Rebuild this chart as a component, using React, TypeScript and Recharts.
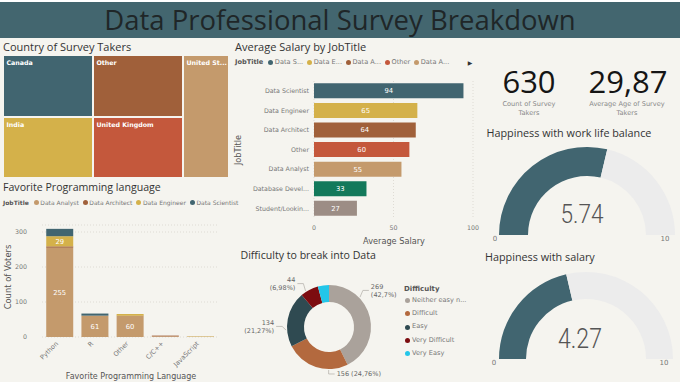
import React from 'react';
import { Treemap, BarChart, Bar, XAxis, YAxis, CartesianGrid, Cell, LabelList, PieChart, Pie } from 'recharts';

// Country of survey takers (tile sizes)
const countries = ['Canada', 'Other', 'India', 'United Kingdom', 'United States'];
const countryTiles = [113, 113, 111, 111, 115];

// Average salary by job title (k$)
const jobTitles = ['Data Scientist', 'Data Engineer', 'Data Architect', 'Other', 'Data Analyst', 'Database Developer', 'Student/Looking/None'];
const avgSalary = [94, 65, 64, 60, 55, 33, 27];

// Favorite programming language, votes per job title
const languages = ['Python', 'R', 'Other', 'C/C++', 'JavaScript'];
const analystVotes = [255, 61, 60, 2, 1];
const architectVotes = [4, 0, 1, 2, 0];
const engineerVotes = [29, 0, 5, 0, 1];
const scientistVotes = [21, 6, 0, 0, 0];

// Difficulty to break into data
const difficulty = ['Neither easy nor difficult', 'Difficult', 'Easy', 'Very Difficult', 'Very Easy'];
const difficultyCount = [269, 156, 134, 44, 27];

// KPIs
const surveyCount = '630';
const averageAge = '29,87';
const workLifeHappiness = 5.74;
const salaryHappiness = 4.27;
const gaugeMax = 10;

const BG = '#f5f4ef';
const TEAL = '#416570';
const TITLE = '"Open Sans", "Noto Sans", sans-serif';
const SMALL = '"DejaVu Sans", Verdana, sans-serif';

const countryColors = [TEAL, '#a0603a', '#d4b14a', '#c4583c', '#c49a6c'];
const jobColors = [TEAL, '#d4b14a', '#a0603a', '#c4583c', '#c49a6c', '#13795b', '#9c8d85'];
const diffColors = ['#aaa29b', '#b3693e', '#2f4a51', '#7c0c10', '#23c6e9'];

const tile = (i: number) => ({ name: countries[i], size: countryTiles[i], tileColor: countryColors[i] });
const countryTree = [
  { name: 'top', children: [tile(0), tile(1)] },
  { name: 'bottom', children: [tile(2), tile(3)] },
  tile(4),
];

const salaryData = jobTitles.map((t, i) => ({ title: t, salary: avgSalary[i] }));
const langData = languages.map((l, i) => ({
  lang: l,
  analyst: analystVotes[i],
  architect: architectVotes[i],
  engineer: engineerVotes[i],
  scientist: scientistVotes[i],
}));
const diffTotal = difficultyCount.reduce((a, b) => a + b, 0);
const diffData = difficulty.map((d, i) => ({ name: d, value: difficultyCount[i] }));

const truncate = (s: string, n = 14) => (s.length > n ? s.slice(0, n) + '...' : s);
const fmtPct = (v: number) => (Math.round((v / diffTotal) * 10000) / 100).toString().replace('.', ',') + '%';
const RAD = Math.PI / 180;

const axisTick = { fontSize: 6.3, fill: '#777', fontFamily: SMALL };

const TreeTile = (props: any) => {
  const { x, y, width, height, name, tileColor } = props;
  if (!tileColor) return null;
  const label = name.length * 4.4 > width - 6 ? name.slice(0, Math.floor((width - 6) / 4.4)) + '...' : name;
  return (
    <g>
      <rect x={x} y={y} width={width} height={height} fill={tileColor} stroke={BG} strokeWidth={2} />
      <text x={x + 3.5} y={y + 9.5} fill="#fff" fontSize={6.3} fontWeight="bold" fontFamily={SMALL}>
        {label}
      </text>
    </g>
  );
};

const JobTick = (props: any) => {
  const { x, y, payload } = props;
  return (
    <text x={x} y={y} dy={2.3} textAnchor="end" {...axisTick}>
      {truncate(payload.value)}
    </text>
  );
};

const LangTick = (props: any) => {
  const { x, y, payload } = props;
  const tx = x - 1;
  const ty = y - 1;
  return (
    <text x={tx} y={ty} transform={`rotate(-45 ${tx} ${ty})`} textAnchor="end" fontSize={6.5} fill="#777" fontFamily={SMALL}>
      {payload.value}
    </text>
  );
};

// leader line attached a third of the way into each slice, like the original report
const DiffLabel = (p: any) => {
  const { cx, cy, startAngle, endAngle, outerRadius, value, percent } = p;
  if (percent < 0.05) return null;
  const a = startAngle + (endAngle - startAngle) * 0.3;
  const cos = Math.cos(-a * RAD);
  const sin = Math.sin(-a * RAD);
  const bottom = sin > 0.8;
  const sx = cx + (outerRadius + 1) * cos;
  const sy = cy + (outerRadius + 1) * sin;
  const mx = cx + (outerRadius + 5) * cos;
  const my = cy + (outerRadius + 5) * sin - (bottom ? 0 : 4);
  const right = bottom || cos >= 0;
  const ex = mx + (right ? 6 : -6);
  const tx = ex + (right ? 2 : -2);
  const style = { fontSize: 6.5, fill: '#666', fontFamily: SMALL };
  return (
    <g>
      <polyline points={`${sx},${sy} ${mx},${my} ${ex},${my}`} fill="none" stroke="#b0aca6" strokeWidth={0.7} />
      {bottom ? (
        <text x={tx} y={my + 2.3} {...style}>{`${value} (${fmtPct(value)})`}</text>
      ) : (
        <text x={tx} y={my - 1.5} textAnchor={right ? 'start' : 'end'} {...style}>
          <tspan x={tx}>{value}</tspan>
          <tspan x={tx} dy={7.6}>({fmtPct(value)})</tspan>
        </text>
      )}
    </g>
  );
};

const Gauge = ({ value, top, cx, inner, outer }: any) => (
  <div style={{ position: 'absolute', left: 480, top }}>
    <PieChart width={200} height={110}>
      <Pie
        data={[{ v: value }, { v: gaugeMax - value }]}
        dataKey="v"
        cx={cx}
        cy={100}
        startAngle={180}
        endAngle={0}
        innerRadius={inner}
        outerRadius={outer}
        stroke="none"
        isAnimationActive={false}
      >
        <Cell fill={TEAL} />
        <Cell fill="#ececec" />
      </Pie>
    </PieChart>
  </div>
);

const LegendRow = ({ items, colors, style, gap }: any) => (
  <div style={{ position: 'absolute', display: 'flex', alignItems: 'center', fontFamily: SMALL, color: '#777', whiteSpace: 'nowrap', ...style }}>
    <span style={{ fontWeight: 'bold', color: '#555', marginRight: gap + 1 }}>JobTitle</span>
    {items.map((t: string, i: number) => (
      <span key={t + i} style={{ display: 'flex', alignItems: 'center', marginRight: gap }}>
        <span style={{ width: 5, height: 5, borderRadius: 3, background: colors[i], marginRight: 1.5, display: 'inline-block' }} />
        {t}
      </span>
    ))}
  </div>
);

export default function App() {
  return (
    <div style={{ position: 'absolute', left: 0, top: 0, width: 680, height: 382, background: BG, overflow: 'hidden' }}>
      <div style={{ position: 'absolute', left: 0, top: 0, width: 680, height: 2, background: '#fff' }} />
      <div style={{ position: 'absolute', left: 0, top: 2, width: 680, height: 36, background: '#43666f' }} />

      {/* Country treemap */}
      <div style={{ position: 'absolute', left: 3, top: 55 }}>
        <Treemap width={226} height={123} data={countryTree} dataKey="size" isAnimationActive={false} content={<TreeTile />} />
      </div>

      {/* Average salary by job title */}
      <LegendRow
        items={jobTitles.slice(0, 5).map((t) => truncate(t, 6))}
        colors={jobColors}
        gap={4}
        style={{ left: 235, top: 58, fontSize: 6.6 }}
      />
      <div style={{ position: 'absolute', left: 230, top: 70 }}>
        <BarChart width={250} height={180} data={salaryData} layout="vertical" margin={{ top: 11, right: 7, bottom: 0, left: 0 }} barCategoryGap="12%">
          <CartesianGrid horizontal={false} stroke="#dedbd4" strokeDasharray="1 2" />
          <XAxis type="number" domain={[0, 100]} ticks={[0, 50, 100]} axisLine={false} tickLine={false} tick={axisTick} height={32} />
          <YAxis type="category" dataKey="title" width={84} axisLine={false} tickLine={false} tickSize={3} tick={<JobTick />} interval={0} />
          <Bar dataKey="salary" isAnimationActive={false}>
            {salaryData.map((d, i) => (
              <Cell key={d.title} fill={jobColors[i]} />
            ))}
            <LabelList dataKey="salary" position="center" fill="#fff" fontSize={6.8} fontFamily={SMALL} />
          </Bar>
        </BarChart>
      </div>

      {/* Favorite programming language */}
      <LegendRow
        items={['Data Analyst', 'Data Architect', 'Data Engineer', 'Data Scientist']}
        colors={['#c49a6c', '#a0603a', '#d4b14a', TEAL]}
        gap={4}
        style={{ left: 3, top: 199, fontSize: 6 }}
      />
      <div style={{ position: 'absolute', left: 0, top: 210 }}>
        <BarChart width={230} height={172} data={langData} margin={{ top: 15, right: 12, bottom: 0, left: 0 }} barCategoryGap="12%">
          <CartesianGrid vertical={false} stroke="#dedbd4" strokeDasharray="1 2" />
          <XAxis dataKey="lang" interval={0} axisLine={false} tickLine={false} height={45} tick={<LangTick />} />
          <YAxis domain={[0, 320]} ticks={[0, 100, 200, 300]} width={42} axisLine={false} tickLine={false} tickSize={0} tickMargin={15} tick={axisTick} />
          <Bar dataKey="analyst" stackId="a" fill="#c49a6c" isAnimationActive={false}>
            <LabelList dataKey="analyst" position="center" fill="#fff" fontSize={6.8} fontFamily={SMALL} formatter={(v: any) => (v >= 20 ? v : '')} />
          </Bar>
          <Bar dataKey="architect" stackId="a" fill="#a0603a" isAnimationActive={false} />
          <Bar dataKey="engineer" stackId="a" fill="#d4b14a" isAnimationActive={false}>
            <LabelList dataKey="engineer" position="center" fill="#fff" fontSize={6.8} fontFamily={SMALL} formatter={(v: any) => (v >= 20 ? v : '')} />
          </Bar>
          <Bar dataKey="scientist" stackId="a" fill={TEAL} isAnimationActive={false} />
        </BarChart>
      </div>

      {/* Difficulty donut */}
      <div style={{ position: 'absolute', left: 230, top: 250 }}>
        <PieChart width={172} height={132}>
          <Pie
            data={diffData}
            dataKey="value"
            cx={94}
            cy={72}
            startAngle={90}
            endAngle={-270}
            innerRadius={25}
            outerRadius={42}
            stroke="none"
            label={DiffLabel}
            labelLine={false}
            isAnimationActive={false}
          >
            {diffData.map((d, i) => (
              <Cell key={d.name} fill={diffColors[i]} />
            ))}
          </Pie>
        </PieChart>
      </div>
      <div style={{ position: 'absolute', left: 404, top: 283.7, fontFamily: SMALL, fontSize: 6.6, color: '#777', whiteSpace: 'nowrap' }}>
        <div style={{ height: 10, lineHeight: '10px', fontWeight: 'bold', color: '#555', fontSize: 7 }}>Difficulty</div>
        {difficulty.map((d, i) => (
          <div key={d} style={{ height: 13.4, lineHeight: '13.4px', display: 'flex', alignItems: 'center' }}>
            <span style={{ width: 5, height: 5, borderRadius: 3, background: diffColors[i], marginRight: 2, marginLeft: 1 }} />
            {truncate(d)}
          </div>
        ))}
      </div>

      {/* Gauges */}
      <Gauge value={workLifeHappiness} top={130} cx={102} inner={59} outer={88} />
      <Gauge value={salaryHappiness} top={254} cx={101} inner={60} outer={87} />

      {/* Text layer */}
      <svg width={680} height={382} style={{ position: 'absolute', left: 0, top: 0, pointerEvents: 'none' }}>
        <text x={340} y={29.5} textAnchor="middle" fontSize={27.5} fill="#1f2628" fontFamily={TITLE}>
          Data Professional Survey Breakdown
        </text>
        <text x={3} y={50.5} fontSize={11} fill="#333" fontFamily={TITLE}>Country of Survey Takers</text>
        <text x={235} y={51} fontSize={11} fill="#333" fontFamily={TITLE}>Average Salary by JobTitle</text>
        <text x={3} y={190.5} fontSize={10.6} fill="#333" fontFamily={TITLE}>Favorite Programming language</text>
        <text x={240.5} y={259} fontSize={10.6} fill="#333" fontFamily={TITLE}>Difficulty to break into Data</text>
        <text x={486.5} y={136.5} fontSize={10.8} fill="#333" fontFamily={TITLE}>Happiness with work life balance</text>
        <text x={485} y={260.5} fontSize={10.8} fill="#333" fontFamily={TITLE}>Happiness with salary</text>

        {/* salary chart axis titles */}
        <text x={394} y={243.5} textAnchor="middle" fontSize={8.2} fill="#555" fontFamily={SMALL}>Average Salary</text>
        <text x={241} y={150} transform="rotate(-90 241 150)" textAnchor="middle" fontSize={8.2} fill="#555" fontFamily={SMALL}>JobTitle</text>
        <text x={470} y={64.5} textAnchor="middle" fontSize={6} fill="#333" fontFamily={SMALL}>▶</text>

        {/* language chart axis titles */}
        <text x={131} y={379} textAnchor="middle" fontSize={8} fill="#555" fontFamily={SMALL}>Favorite Programming Language</text>
        <text x={10.5} y={277} transform="rotate(-90 10.5 277)" textAnchor="middle" fontSize={8.4} fill="#555" fontFamily={SMALL}>Count of Voters</text>

        {/* KPIs */}
        <text x={529} y={92.8} textAnchor="middle" fontSize={31} fill="#151515" fontFamily={TITLE}>{surveyCount}</text>
        <text x={628} y={92.8} textAnchor="middle" fontSize={31} fill="#151515" fontFamily={TITLE}>{averageAge}</text>
        <text x={529} y={106.3} textAnchor="middle" fontSize={6.6} fill="#888" fontFamily={SMALL}>Count of Survey</text>
        <text x={529} y={115.3} textAnchor="middle" fontSize={6.6} fill="#888" fontFamily={SMALL}>Takers</text>
        <text x={627} y={106.3} textAnchor="middle" fontSize={6.6} fill="#888" fontFamily={SMALL}>Average Age of Survey</text>
        <text x={627} y={115.3} textAnchor="middle" fontSize={6.6} fill="#888" fontFamily={SMALL}>Takers</text>

        {/* gauge values */}
        <text x={582} y={223} textAnchor="middle" fontSize={26} fill="#555" fontFamily="Roboto, sans-serif" fontWeight={300} textLength={43} lengthAdjust="spacingAndGlyphs">
          {workLifeHappiness.toFixed(2)}
        </text>
        <text x={580} y={348} textAnchor="middle" fontSize={27} fill="#555" fontFamily="Roboto, sans-serif" fontWeight={300} textLength={44} lengthAdjust="spacingAndGlyphs">
          {salaryHappiness.toFixed(2)}
        </text>
        <text x={495} y={240.5} textAnchor="middle" fontSize={7} fill="#777" fontFamily={SMALL}>0</text>
        <text x={665} y={240.5} textAnchor="middle" fontSize={7} fill="#777" fontFamily={SMALL}>{gaugeMax}</text>
        <text x={494} y={364.5} textAnchor="middle" fontSize={7} fill="#777" fontFamily={SMALL}>0</text>
        <text x={664} y={364.5} textAnchor="middle" fontSize={7} fill="#777" fontFamily={SMALL}>{gaugeMax}</text>
      </svg>
    </div>
  );
}
